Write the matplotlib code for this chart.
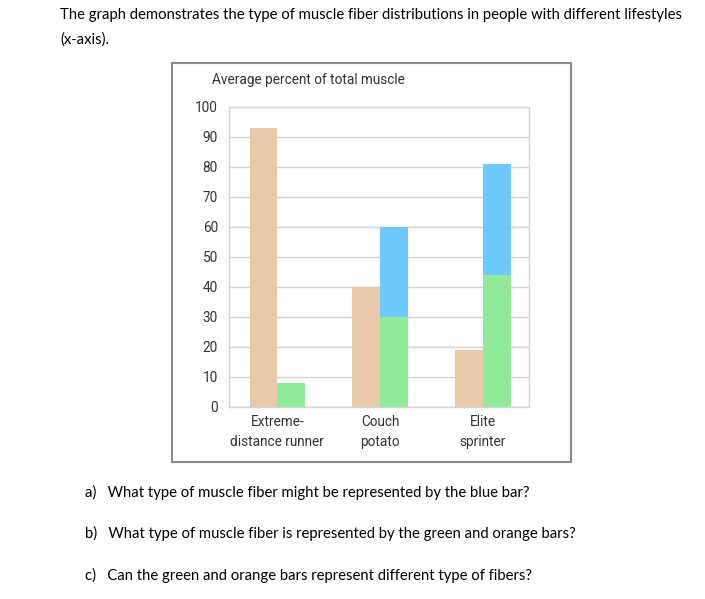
import numpy as np
import matplotlib.pyplot as plt
from matplotlib.patches import Rectangle

categories = ["Extreme-\ndistance runner", "Couch\npotato", "Elite\nsprinter"]
orange_vals = [93, 40, 19]
green_vals = [8, 30, 44]
blue_vals = [0, 30, 37]
yticks = [0, 10, 20, 30, 40, 50, 60, 70, 80, 90, 100]

header_lines = [
    "The graph demonstrates the type of muscle fiber distributions in people with different lifestyles",
    "(x-axis).",
]
questions = [
    "a)   What type of muscle fiber might be represented by the blue bar?",
    "b)   What type of muscle fiber is represented by the green and orange bars?",
    "c)   Can the green and orange bars represent different type of fibers?",
]

fig = plt.figure(figsize=(7.05, 5.99), dpi=100)

# page text
for i, line in enumerate(header_lines):
    fig.text(60 / 705, 1 - (15 + 25 * i) / 599, line, family="Lato", fontsize=10.7,
             va="center", color="black")
for i, q in enumerate(questions):
    fig.text(85 / 705, 1 - (492 + 41.5 * i) / 599, q, family="Lato", fontsize=10.7,
             va="center", color="black")

# grey frame around the chart
fig.patches.append(Rectangle((172 / 705, 1 - 462 / 599), 399 / 705, 399 / 599,
                             transform=fig.transFigure, fill=False,
                             edgecolor="#8a8a8a", linewidth=1.5))

ax = fig.add_axes([229 / 705, 1 - 407 / 599, 300 / 705, 300 / 599])
x = np.arange(len(categories))
w = 0.27
ax.bar(x - w / 2, orange_vals, w, color="#e8c9a9", zorder=2)
ax.bar(x + w / 2, green_vals, w, color="#8fea9a", zorder=2)
ax.bar(x + w / 2, blue_vals, w, bottom=green_vals, color="#6ec9fc", zorder=2)

ax.set_xlim(-0.47, 2.45)
ax.set_ylim(0, 100)
ax.set_yticks(yticks)
ax.set_xticks(x)
ax.set_xticklabels(categories, linespacing=1.5)
ax.yaxis.grid(True, color="#d4d4d4", linewidth=1, zorder=0)
ax.tick_params(length=0, labelsize=9.8, labelcolor="#333333", pad=6)
ax.tick_params(axis="y", pad=8)
for lab in ax.get_xticklabels() + ax.get_yticklabels():
    lab.set_family("Roboto")
for s in ax.spines.values():
    s.set_color("#d4d4d4")
    s.set_linewidth(1)

fig.text(212 / 705, 1 - 80 / 599, "Average percent of total muscle", family="Roboto",
         fontsize=9.8, color="#333333", va="center")

fig.savefig("out.png", dpi=100)
